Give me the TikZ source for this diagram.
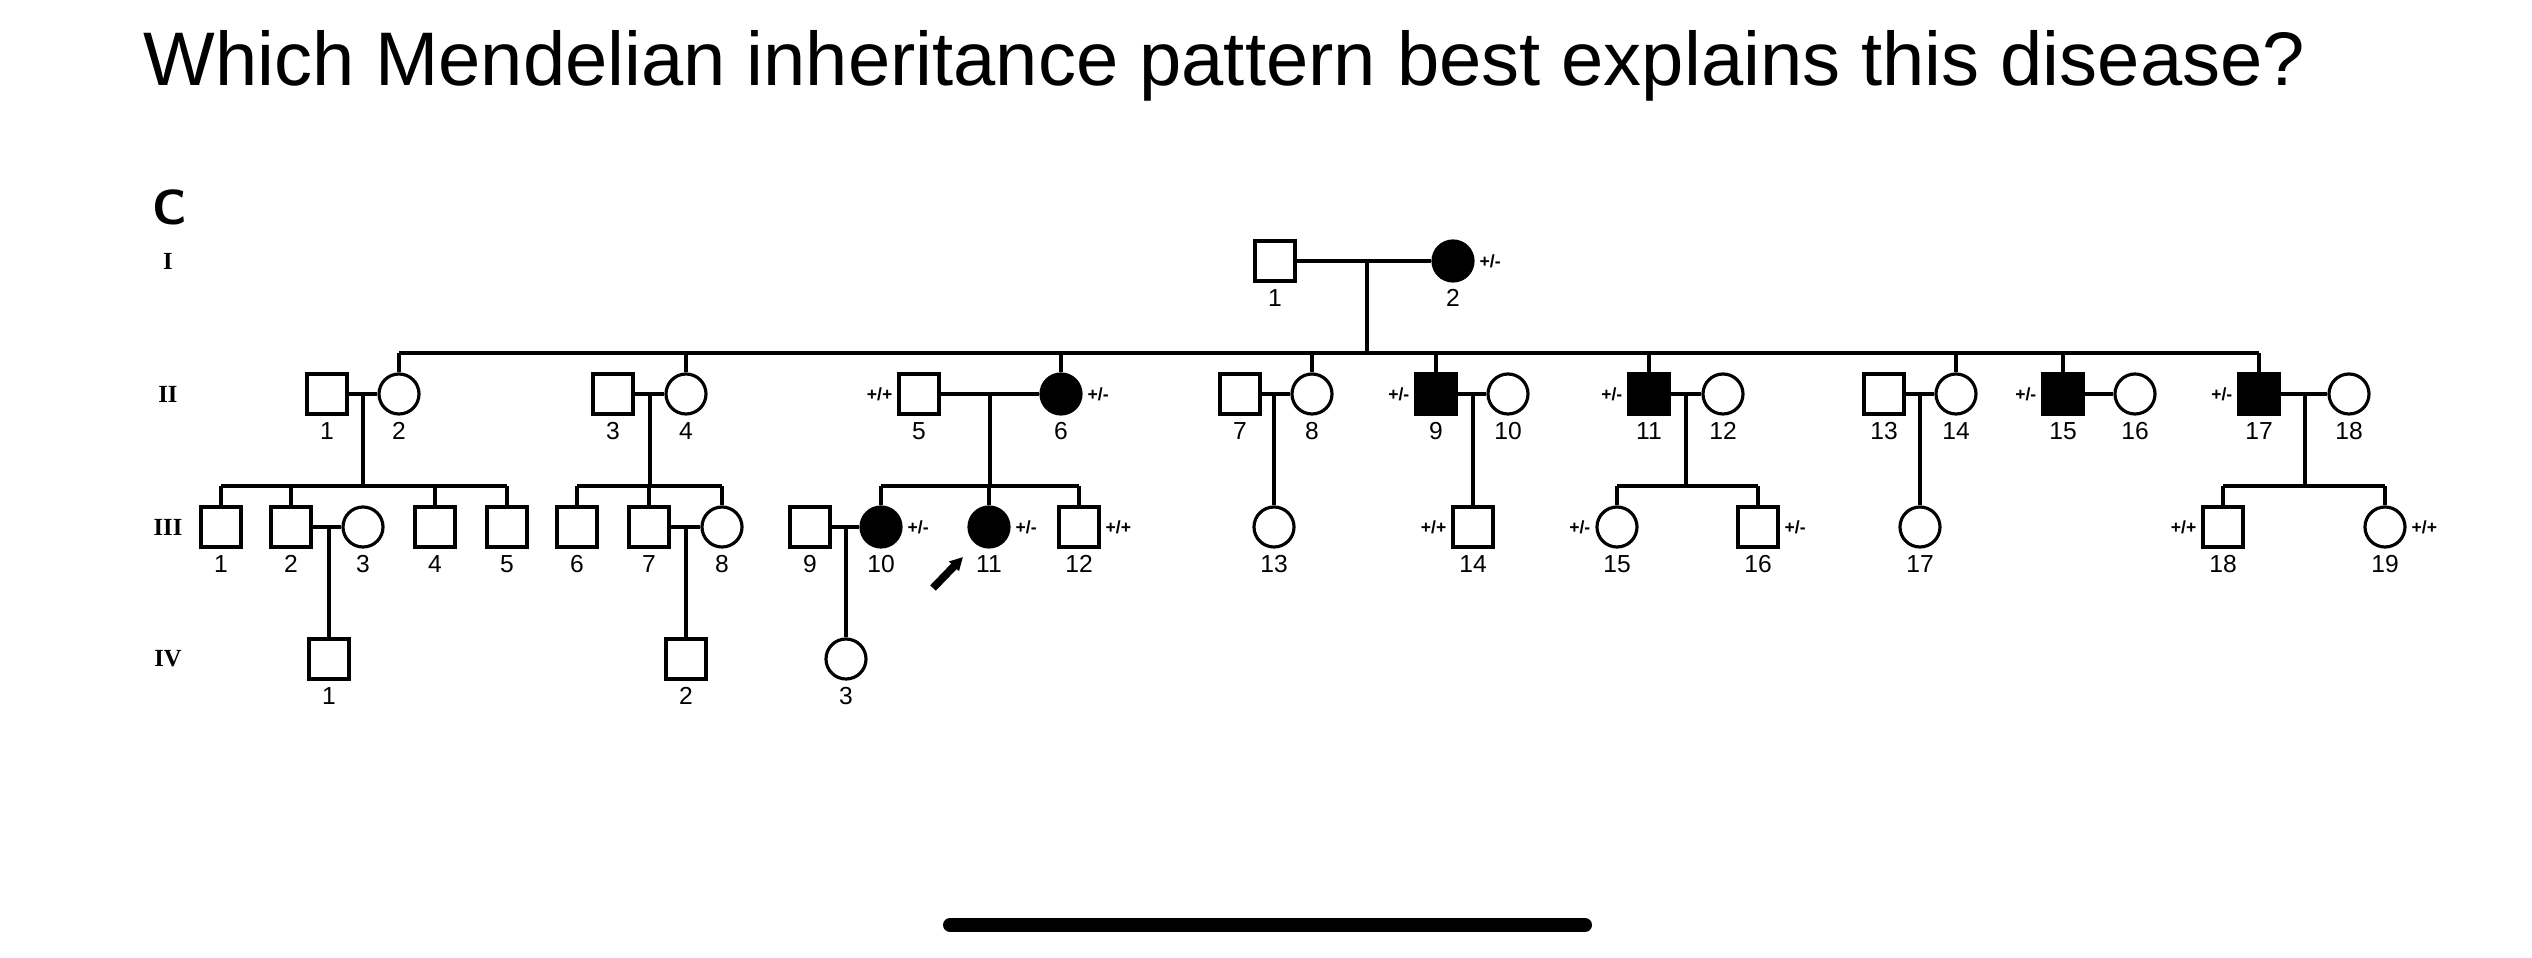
\documentclass[tikz,border=0pt]{standalone}
\usepackage{fontspec}
\usetikzlibrary{arrows.meta}
\setmainfont{Liberation Sans}
\newfontfamily\serifnum{Liberation Serif}
\begin{document}
\begin{tikzpicture}[x=0.01cm,y=-0.01cm,line width=0.9pt,
  pm/.style={draw,rectangle,minimum size=0.40cm,inner sep=0pt,fill=white},
  pf/.style={draw,circle,minimum size=0.40cm,inner sep=0pt,fill=white},
  aff/.style={fill=black},
  num/.style={label={[font=\fontsize{7}{8}\selectfont,inner sep=1pt,yshift=-0.02cm]below:#1}},
  gl/.style={label={[font=\bfseries\fontsize{5}{6}\selectfont,inner sep=1pt]left:#1}},
  gr/.style={label={[font=\bfseries\fontsize{5}{6}\selectfont,inner sep=1pt]right:#1}},
  gen/.style={font=\serifnum\bfseries\fontsize{7}{8}\selectfont}]
\useasboundingbox (0,0) rectangle (2532,958);
\node[anchor=west,font=\fontsize{21.6}{25}\selectfont] (title) at (130,66) {Which Mendelian inheritance pattern best explains this disease?};
\node[font=\sffamily\bfseries\fontsize{14}{15}\selectfont] (C) at (170,207) {C};
\node[gen] (gI) at (168,261) {I};
\node[gen] (gII) at (168,394) {II};
\node[gen] (gIII) at (168,527) {III};
\node[gen] (gIV) at (168,659) {IV};
% Gen I
\node[pm,num=1] (I1) at (1275,261) {};
\node[pf,aff,num=2,gr=+/-] (I2) at (1453,261) {};
\draw (I1) -- (I2);
\coordinate (mI) at (1367,261);
\coordinate (bII) at (1367,353);
\draw (mI) -- (bII);
\coordinate (bIIL) at (399,353);
\coordinate (bIIR) at (2259,353);
\draw (bIIL) -- (bIIR);
% Gen II
\node[pm,num=1] (II1) at (327,394) {};
\node[pf,num=2] (II2) at (399,394) {};
\node[pm,num=3] (II3) at (613,394) {};
\node[pf,num=4] (II4) at (686,394) {};
\node[pm,num=5,gl=+/+] (II5) at (919,394) {};
\node[pf,aff,num=6,gr=+/-] (II6) at (1061,394) {};
\node[pm,num=7] (II7) at (1240,394) {};
\node[pf,num=8] (II8) at (1312,394) {};
\node[pm,aff,num=9,gl=+/-] (II9) at (1436,394) {};
\node[pf,num=10] (II10) at (1508,394) {};
\node[pm,aff,num=11,gl=+/-] (II11) at (1649,394) {};
\node[pf,num=12] (II12) at (1723,394) {};
\node[pm,num=13] (II13) at (1884,394) {};
\node[pf,num=14] (II14) at (1956,394) {};
\node[pm,aff,num=15,gl=+/-] (II15) at (2063,394) {};
\node[pf,num=16] (II16) at (2135,394) {};
\node[pm,aff,num=17,gl=+/-] (II17) at (2259,394) {};
\node[pf,num=18] (II18) at (2349,394) {};
\foreach \c in {II2,II4,II6,II8,II9,II11,II14,II15,II17}
  \draw (\c.north) -- (\c.north |- bII);
\foreach \a/\b in {II1/II2,II3/II4,II5/II6,II7/II8,II9/II10,II11/II12,II13/II14,II15/II16,II17/II18}
  \draw (\a) -- (\b);
% Gen III
\node[pm,num=1] (III1) at (221,527) {};
\node[pm,num=2] (III2) at (291,527) {};
\node[pf,num=3] (III3) at (363,527) {};
\node[pm,num=4] (III4) at (435,527) {};
\node[pm,num=5] (III5) at (507,527) {};
\node[pm,num=6] (III6) at (577,527) {};
\node[pm,num=7] (III7) at (649,527) {};
\node[pf,num=8] (III8) at (722,527) {};
\node[pm,num=9] (III9) at (810,527) {};
\node[pf,aff,num=10,gr=+/-] (III10) at (881,527) {};
\node[pf,aff,num=11,gr=+/-] (III11) at (989,527) {};
\node[pm,num=12,gr=+/+] (III12) at (1079,527) {};
\node[pf,num=13] (III13) at (1274,527) {};
\node[pm,num=14,gl=+/+] (III14) at (1473,527) {};
\node[pf,num=15,gl=+/-] (III15) at (1617,527) {};
\node[pm,num=16,gr=+/-] (III16) at (1758,527) {};
\node[pf,num=17] (III17) at (1920,527) {};
\node[pm,num=18,gl=+/+] (III18) at (2223,527) {};
\node[pf,num=19,gr=+/+] (III19) at (2385,527) {};
% sibships
\coordinate (m12) at (363,394); \coordinate (s12) at (363,486);
\draw (m12) -- (s12);
\draw (III1.north |- s12) -- (III5.north |- s12);
\foreach \c in {III1,III2,III4,III5} \draw (\c.north) -- (\c.north |- s12);
\coordinate (m34) at (650,394); \coordinate (s34) at (650,486);
\draw (m34) -- (s34);
\draw (III6.north |- s34) -- (III8.north |- s34);
\foreach \c in {III6,III7,III8} \draw (\c.north) -- (\c.north |- s34);
\coordinate (m56) at (990,394); \coordinate (s56) at (990,486);
\draw (m56) -- (s56);
\draw (III10.north |- s56) -- (III12.north |- s56);
\foreach \c in {III10,III11,III12} \draw (\c.north) -- (\c.north |- s56);
\coordinate (m78) at (1274,394);
\draw (m78) -- (III13.north);
\coordinate (m910) at (1473,394);
\draw (m910) -- (III14.north);
\coordinate (m1112) at (1686,394); \coordinate (s1112) at (1686,486);
\draw (m1112) -- (s1112);
\draw (III15.north |- s1112) -- (III16.north |- s1112);
\foreach \c in {III15,III16} \draw (\c.north) -- (\c.north |- s1112);
\coordinate (m1314) at (1920,394);
\draw (m1314) -- (III17.north);
\coordinate (m1718) at (2305,394); \coordinate (s1718) at (2305,486);
\draw (m1718) -- (s1718);
\draw (III18.north |- s1718) -- (III19.north |- s1718);
\foreach \c in {III18,III19} \draw (\c.north) -- (\c.north |- s1718);
\foreach \a/\b in {III2/III3,III7/III8,III9/III10} \draw (\a) -- (\b);
% Gen IV
\node[pm,num=1] (IV1) at (329,659) {};
\node[pm,num=2] (IV2) at (686,659) {};
\node[pf,num=3] (IV3) at (846,659) {};
\coordinate (m23) at (329,527); \draw (m23) -- (IV1.north);
\coordinate (m78b) at (686,527); \draw (m78b) -- (IV2.north);
\coordinate (m910b) at (846,527); \draw (m910b) -- (IV3.north);
% proband arrow
\coordinate (pa) at (933,588);
\coordinate (pb) at (963,557);
\draw[line width=2.2pt,-{Triangle[length=0.13cm,width=0.13cm]}] (pa) -- (pb);
% home bar
\coordinate (h1) at (950,925); \coordinate (h2) at (1585,925);
\draw[line width=0.14cm,line cap=round] (h1) -- (h2);
\end{tikzpicture}
\end{document}
